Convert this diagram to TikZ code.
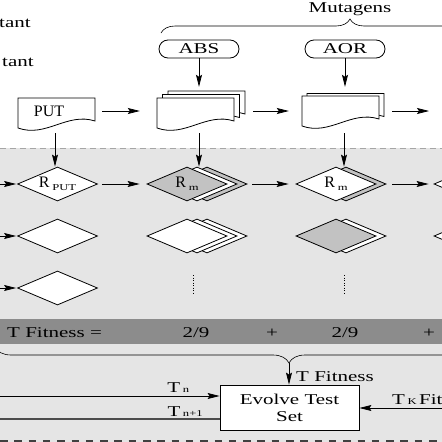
\documentclass[tikz,border=0pt]{standalone}
\usepackage{fontspec}
\setmainfont[FakeStretch=1.4]{Liberation Serif}
\newfontfamily\uprightfont{Liberation Serif}
\usetikzlibrary{arrows.meta,shapes.geometric,decorations.pathreplacing}
\definecolor{panelgray}{gray}{0.9}
\definecolor{bargray}{gray}{0.55}
\definecolor{killgray}{gray}{0.76}
\newcommand\sub[1]{{\rmfamily\fontsize{9}{10}\selectfont #1}}
\newcommand\lowsub[1]{\raisebox{-3pt}{\rmfamily\fontsize{9}{10}\selectfont #1}}
\newcommand\docsheet[2]{\draw[sheet] (#1,#2) -- ++(0,30) .. controls +(28,10) and +(-28,-9) .. ++(77,-7) -- ++(0,-23) -- cycle;}
\tikzset{
  sheet/.style={draw, fill=white, line width=0.8pt},
  docbody/.style={minimum width=77pt, minimum height=28pt, inner sep=0pt},
  rbox/.style={diamond, draw, fill=white, aspect=2.35, minimum width=80pt, minimum height=34pt, inner sep=0pt, line width=0.8pt, font=\uprightfont\fontsize{16}{18}\selectfont},
  killed/.style={rbox, fill=killgray},
  opbox/.style={draw, rounded corners=9pt, minimum width=80pt, minimum height=18pt, inner sep=1pt, line width=0.8pt},
  flow/.style={->, line width=0.8pt},
  ellipsisline/.style={dash pattern=on 1pt off 1.5pt, line width=0.8pt}
}
\begin{document}
\begin{tikzpicture}[x=1pt, y=-1pt, >={Stealth[length=12pt,width=6pt,inset=2pt]},
    every node/.style={font=\fontsize{15}{17}\selectfont}]
  \useasboundingbox (0,0) rectangle (442,442);
  \clip (0,0) rectangle (442,442);
  \fill[panelgray] (0,148) rectangle (442,442);
  \draw[gray!70, dash pattern=on 6pt off 4pt] (0,148) -- (442,148);
  \draw[black!75, line width=2pt, dash pattern=on 7.5pt off 6.8pt] (0,441) -- (442,441);

  % legend, cut at the left edge
  \node[anchor=west, inner sep=0pt] (killedtxt) at (-1,23) {tant};
  \node[anchor=west, inner sep=0pt] (alivetxt) at (2,62) {tant};

  % mutagens and their documents
  \node (mutagens) at (350,9) {Mutagens};
  \draw[decorate, decoration={brace, amplitude=14pt}, line width=0.6pt] (161,33) -- (539,33);
  \node[opbox] (abs) at (199,49) {ABS};
  \node[opbox] (aor) at (345,49) {AOR};
  \docsheet{18}{98}
  \docsheet{168}{91} \docsheet{162.5}{94.5} \docsheet{157}{98}
  \docsheet{307}{93.5} \docsheet{302}{96}
  \node[inner sep=0pt] (put) at (49,111) {\uprightfont\fontsize{16}{18}\selectfont PUT};
  \node[docbody] (putdoc) at (55,111) {};
  \node[docbody] (absdoc) at (199,111) {};
  \node[docbody] (aordoc) at (344,111) {};
  \coordinate (nextdoc) at (429,111);
  \draw[flow, shorten <=8.5pt, shorten >=20.5pt] (putdoc) -- (absdoc);
  \draw[flow, shorten <=15.5pt, shorten >=16.5pt] (absdoc) -- (aordoc);
  \draw[flow, shorten <=9.5pt] (aordoc) -- (nextdoc);
  \draw[flow, shorten >=10pt] (abs) -- (abs |- absdoc.north);
  \draw[flow, shorten >=10pt] (aor) -- (aor |- aordoc.north);

  % mutant rows
  \node[rbox] (put1) at (57.5,184) {R\,\lowsub{PUT}};
  \node[rbox] (put2) at (57.5,236) {};
  \node[rbox] (put3) at (57.5,288) {};
  \node[killed] (abs1c) at (207,184) {};
  \node[rbox] (abs1b) at (197,184) {};
  \node[killed] (abs1) at (187,184) {R\,\lowsub{m}};
  \node[rbox] (abs2c) at (207,236) {};
  \node[rbox] (abs2b) at (197,236) {};
  \node[rbox] (abs2) at (187,236) {};
  \node[killed] (aor1b) at (346,184) {};
  \node[rbox] (aor1) at (336,184) {R\,\lowsub{m}};
  \node[rbox] (aor2b) at (346,236) {};
  \node[killed] (aor2) at (336,236) {};
  \node[rbox] (next1) at (474,184) {};
  \node[rbox] (next2) at (474,236) {};
  \draw[ellipsisline] (193,275) -- (193,295);
  \draw[ellipsisline] (344,275) -- (344,295);

  \foreach \r in {1,2,3} {
    \coordinate (in\r) at (-30,{132+52*\r});
    \draw[flow, shorten >=1pt] (in\r) -- (put\r);
  }
  \draw[flow, shorten <=8pt] (putdoc.south) -- (putdoc.south |- put1.north);
  \draw[flow, shorten <=8pt] (absdoc.south) -- (absdoc.south |- abs1.north);
  \draw[flow, shorten <=8pt] (aordoc.south) -- (aordoc.south |- aor1.north);
  \draw[flow, shorten <=4pt, shorten >=7pt] (put1) -- (abs1);
  \draw[flow, shorten <=5pt, shorten >=7pt] (abs1c) -- (aor1);
  \draw[flow, shorten <=6pt, shorten >=5pt] (aor1b) -- (next1);

  % fitness sum
  \fill[bargray] (0,319) rectangle (442,344);
  \node[anchor=west, inner sep=0pt] (tfit) at (7,333) {T Fitness =};
  \node (w1) at (196,333) {2/9};
  \node (plus1) at (272,333) {+};
  \node (w2) at (345,333) {2/9};
  \node (plus2) at (429,333) {+};
  \draw[decorate, decoration={brace, mirror, amplitude=16pt}, line width=0.6pt] (-5,347) -- (583,347);
  \coordinate (sumtip) at (289,363);

  % evolve step
  \node[draw, fill=white, line width=0.8pt, minimum width=139pt, minimum height=45pt, inner sep=0pt, align=center] (evolve) at (289.5,407.5) {Evolve Test\\Set};
  \draw[flow] (sumtip) -- (sumtip |- evolve.north);
  \node[anchor=west, inner sep=0pt] (fitlbl) at (296,377) {T Fitness};
  \coordinate (tn) at (-10,396);
  \draw[flow] (tn) -- (tn -| evolve.west) node[pos=0.82, above=3pt, inner sep=0pt] (tnlbl) {T\,\sub{n}};
  \coordinate (tnext) at (-10,419);
  \draw[black!70, line width=1.2pt] (tnext -| evolve.west) -- (tnext) node[pos=0.15, above=2pt, inner sep=0pt, text=black] (tnextlbl) {T\,\sub{n+1}};
  \coordinate (tk) at (460,408);
  \draw[flow] (tk) -- (tk -| evolve.east);
  \node[anchor=south west, inner sep=0pt] (tklbl) at (392,405) {T\,\sub{K}\,Fit};
\end{tikzpicture}
\end{document}
